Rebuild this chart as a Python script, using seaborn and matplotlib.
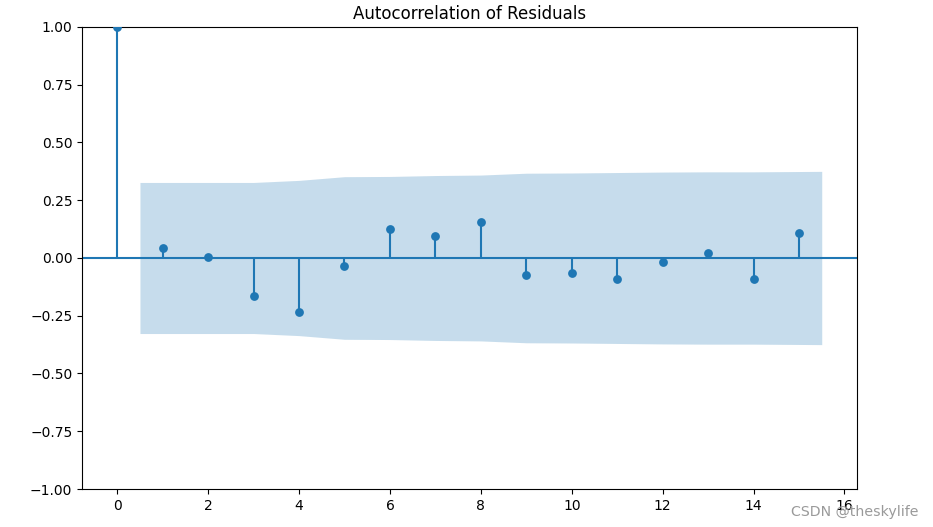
import numpy as np
import pandas as pd
import matplotlib
matplotlib.use("Agg")
import matplotlib.pyplot as plt
import seaborn as sns

# ACF values (lag 0 .. 15)
lags = list(range(16))
acf_vals = [1.0, 0.045, 0.005, -0.165, -0.234, -0.035, 0.125, 0.095,
            0.156, -0.074, -0.065, -0.091, -0.017, 0.022, -0.091, 0.108]

# confidence band half-width for lags 1 .. 15
band_x = [0.5, 2, 3, 4, 5, 6, 7, 8, 9, 10, 11, 12, 13, 14, 15.5]
band_half = [0.327, 0.327, 0.327, 0.336, 0.352, 0.353, 0.357, 0.359,
             0.367, 0.368, 0.370, 0.372, 0.373, 0.373, 0.375]

df = pd.DataFrame({"lag": lags, "acf": acf_vals})

sns.set_style("white")
plt.rcParams["font.family"] = ["DejaVu Sans"]
plt.rcParams["text.color"] = "black"

fig = plt.figure(figsize=(9.33, 5.27), dpi=100)
ax = fig.add_axes([0.0879, 0.0721, 0.8306, 0.8767])

blue = "#1f77b4"
ax.vlines(df["lag"], 0, df["acf"], color=blue, linewidth=1.5)
ax.axhline(0, color=blue, linewidth=1.5)
sns.scatterplot(data=df, x="lag", y="acf", ax=ax, color=blue, s=40,
                edgecolor=blue, linewidth=0, zorder=3)
ax.fill_between(band_x, [-v for v in band_half], band_half,
                color=blue, alpha=0.25, linewidth=0)

ax.set_xlim(-0.775, 16.275)
ax.set_ylim(-1, 1)
ax.set_xticks(range(0, 17, 2))
yt = np.arange(-1, 1.01, 0.25)
ax.set_yticks(yt)
ax.set_yticklabels([f"{v:.2f}".replace("-", "\u2212") for v in yt])
ax.set_xlabel("")
ax.set_ylabel("")
ax.set_title("Autocorrelation of Residuals", fontsize=12, color="black")
ax.tick_params(axis="both", direction="out", length=3.5, width=0.8,
               labelsize=10, bottom=True, left=True, colors="black")
for sp in ax.spines.values():
    sp.set_color("black")
    sp.set_linewidth(0.8)

fig.text(0.984, 0.015, "CSDN @theskylife", ha="right", va="bottom",
         color="#9a9a9a", fontsize=10.2)

fig.savefig("out.png", dpi=100)
